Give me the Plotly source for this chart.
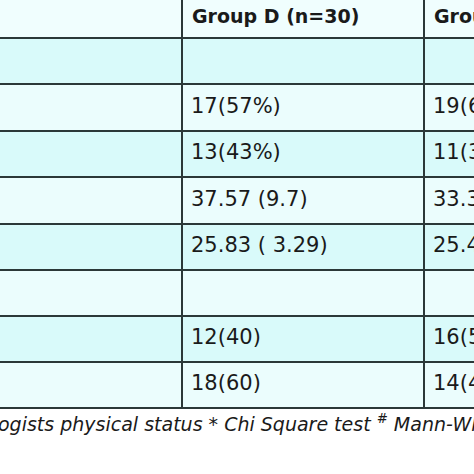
import plotly.graph_objects as go

header = ["", "Group D (n=30)", "Group B (n=30)"]
col_d = ["", "17(57%)", "13(43%)", "37.57 (9.7)", "25.83 ( 3.29)", "", "12(40)", "18(60)"]
col_b = ["", "19(63%)", "11(37%)", "33.33 (9.8)", "25.40 ( 3.10)", "", "16(53)", "14(47)"]
footnote = "ogists physical status * Chi Square test <sup>#</sup> Mann-Whitney U test"

row_edges = [0, 38, 84, 131, 177, 224, 270, 316, 362, 408]
col_edges = [0, 182, 424, 700]
band_colors = ["#f0fefe", "#d9fafa", "#ebfdfd"]

fig = go.Figure()
shapes = []
for i in range(len(row_edges) - 1):
    c = band_colors[0] if i == 0 else (band_colors[1] if i % 2 == 1 else band_colors[2])
    shapes.append(dict(type="rect", x0=0, x1=700, y0=row_edges[i], y1=row_edges[i + 1],
                       fillcolor=c, line=dict(width=0), layer="below"))
for y in row_edges[1:]:
    shapes.append(dict(type="line", x0=0, x1=700, y0=y, y1=y, line=dict(color="#2b3838", width=2)))
for x in col_edges[1:3]:
    shapes.append(dict(type="line", x0=x, x1=x, y0=0, y1=row_edges[-1], line=dict(color="#2b3838", width=2)))

centers = [(row_edges[i] + row_edges[i + 1]) / 2 for i in range(1, len(row_edges) - 1)]
font = "DejaVu Sans, sans-serif"
fig.add_trace(go.Scatter(x=[192, 434], y=[18, 18], mode="text", text=["<b>" + header[1] + "</b>", "<b>" + header[2] + "</b>"],
                         textposition="middle right", textfont=dict(size=19, color="#1a1a1a", family=font),
                         hoverinfo="skip"))
fig.add_trace(go.Scatter(x=[191] * len(col_d), y=centers, mode="text", text=col_d[:len(centers)],
                         textposition="middle right", textfont=dict(size=21, color="#1a1a1a", family=font), hoverinfo="skip"))
fig.add_trace(go.Scatter(x=[433] * len(col_b), y=centers, mode="text", text=col_b[:len(centers)],
                         textposition="middle right", textfont=dict(size=21, color="#1a1a1a", family=font), hoverinfo="skip"))
fig.add_trace(go.Scatter(x=[-2], y=[426], mode="text", text=["<i>" + footnote + "</i>"],
                         textposition="middle right", textfont=dict(size=19, color="#1a1a1a", family=font), hoverinfo="skip"))

fig.update_layout(width=474, height=474, margin=dict(l=0, r=0, t=0, b=0), showlegend=False,
                  paper_bgcolor="white", plot_bgcolor="white", shapes=shapes,
                  xaxis=dict(range=[0, 474], visible=False, fixedrange=True),
                  yaxis=dict(range=[474, 0], visible=False, fixedrange=True))
fig.write_html("out.html", config={"displayModeBar": False},
               post_script="document.body.style.margin='0';document.body.style.overflow='hidden';")
